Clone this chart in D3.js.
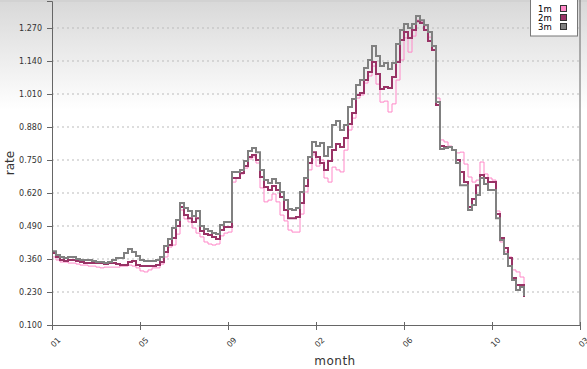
<!DOCTYPE html>
<html lang="en">
    <head>
        <meta charset="utf-8">
        <title>rate chart</title>
        <script type="text/javascript" src="https://d3js.org/d3.v7.min.js"></script>
    </head>
    <body style="margin:0">
        <style>
          text { font-family: "DejaVu Sans", Verdana, sans-serif; fill: #333; }
          .tick text { font-size: 8px; }
        </style>
        <script type="text/javascript">
            // month labels on the x axis (one every 22 samples)
            const month_labels = ["01", "05", "09", "02", "06", "10", "03"]
            const y_ticks = [0.100, 0.230, 0.360, 0.490, 0.620, 0.750, 0.880, 1.010, 1.140, 1.270]
            const series_names = ["1m", "2m", "3m"]

            const rate_1m = [0.368,0.356,0.348,0.348,0.344,0.344,0.340,0.336,0.336,0.332,0.332,0.328,0.325,0.328,0.328,0.328,0.328,0.332,0.332,0.336,
                0.332,0.325,0.313,0.309,0.317,0.325,0.325,0.340,0.368,0.407,0.415,0.458,0.553,0.518,0.506,0.482,0.462,0.447,0.427,0.419,
                0.415,0.419,0.451,0.462,0.466,0.663,0.679,0.695,0.718,0.754,0.762,0.738,0.640,0.585,0.592,0.616,0.585,0.533,0.510,0.474,
                0.466,0.466,0.537,0.624,0.711,0.770,0.726,0.750,0.679,0.663,0.722,0.711,0.703,0.789,0.868,0.915,0.994,1.006,1.053,1.081,
                1.120,1.049,0.978,0.982,0.939,0.971,1.065,1.144,1.231,1.175,1.238,1.301,1.297,1.278,1.234,1.183,0.994,0.829,0.821,0.805,
                0.789,0.778,0.781,0.734,0.683,0.663,0.671,0.742,0.695,0.679,0.671,0.549,0.427,0.388,0.368,0.317,0.309,0.289,0.230]
            const rate_2m = [0.384,0.368,0.356,0.352,0.356,0.356,0.352,0.348,0.344,0.344,0.344,0.344,0.344,0.340,0.344,0.344,0.340,0.336,0.336,0.348,
                0.352,0.336,0.332,0.332,0.332,0.332,0.336,0.348,0.388,0.415,0.443,0.490,0.565,0.533,0.521,0.506,0.521,0.470,0.458,0.455,
                0.447,0.439,0.474,0.486,0.486,0.679,0.679,0.699,0.726,0.762,0.770,0.750,0.683,0.644,0.632,0.648,0.632,0.604,0.553,0.521,
                0.521,0.525,0.581,0.648,0.738,0.781,0.762,0.738,0.711,0.746,0.789,0.813,0.801,0.837,0.892,0.935,1.006,1.014,1.065,1.097,
                1.136,1.089,1.030,1.038,1.034,1.077,1.136,1.223,1.254,1.231,1.262,1.297,1.290,1.262,1.219,1.183,0.967,0.805,0.801,0.801,
                0.789,0.750,0.703,0.663,0.565,0.596,0.651,0.691,0.679,0.663,0.663,0.537,0.443,0.403,0.364,0.285,0.258,0.258,0.210]
            const rate_3m = [0.391,0.376,0.368,0.364,0.368,0.368,0.360,0.356,0.356,0.356,0.352,0.348,0.348,0.344,0.348,0.356,0.364,0.364,0.384,0.399,
                0.388,0.372,0.356,0.352,0.352,0.352,0.356,0.368,0.411,0.439,0.482,0.514,0.581,0.561,0.549,0.529,0.549,0.490,0.478,0.470,
                0.462,0.458,0.494,0.506,0.506,0.703,0.703,0.711,0.746,0.785,0.797,0.781,0.711,0.671,0.659,0.675,0.659,0.624,0.592,0.557,
                0.553,0.561,0.624,0.679,0.762,0.821,0.805,0.817,0.766,0.801,0.888,0.904,0.868,0.888,0.959,0.990,1.045,1.065,1.112,1.144,
                1.199,1.160,1.120,1.132,1.108,1.132,1.207,1.262,1.286,1.270,1.286,1.317,1.301,1.282,1.254,1.199,0.978,0.793,0.797,0.801,
                0.789,0.738,0.651,0.651,0.553,0.573,0.612,0.679,0.655,0.632,0.632,0.521,0.435,0.380,0.332,0.277,0.238,0.250,0.214]

            const colors = ["#ff88c8", "#993366", "#808080"]
            const widths = [1, 2, 2]
            const all_series = [rate_1m, rate_2m, rate_3m]

            const w = 587
            const h = 369
            const plot_left = 52, plot_right = 580, plot_top = 1, plot_bottom = 325
            const step = 22

            const svg = d3.select("body")
                          .append("svg")
                          .attr("width", w)
                          .attr("height", h)

            // grey fade at the top of the picture
            const grad = svg.append("defs").append("linearGradient")
                            .attr("id", "bg").attr("x1", 0).attr("x2", 0).attr("y1", 0).attr("y2", 1)
            grad.append("stop").attr("offset", "0%").attr("stop-color", "#d8d8d8")
            grad.append("stop").attr("offset", "100%").attr("stop-color", "#ffffff")
            svg.append("rect").attr("width", w).attr("height", h).attr("fill", "#fff")
            svg.append("rect").attr("width", w).attr("height", 110).attr("fill", "url(#bg)")
            svg.append("rect").attr("width", w).attr("height", 2).attr("fill", "#d2d2d2")

            const x = d3.scaleLinear().domain([0, step * (month_labels.length - 1)]).range([plot_left, plot_right])
            const y = d3.scaleLinear().domain([0.1, 0.1 + (plot_bottom - plot_top) * 0.13 / 33]).range([plot_bottom, plot_top])

            // dashed grid lines
            svg.append("g")
               .selectAll("line")
               .data(y_ticks.slice(1))
               .enter()
               .append("line")
               .attr("x1", plot_left).attr("x2", plot_right)
               .attr("y1", d => y(d)).attr("y2", d => y(d))
               .attr("stroke", "#bbb")
               .attr("stroke-dasharray", "2,3")

            const line = d3.line()
                           .x((d, i) => x(i))
                           .y(d => y(d))
                           .curve(d3.curveStepAfter)

            svg.selectAll("path.series")
               .data(all_series)
               .enter()
               .append("path")
               .attr("class", "series")
               .attr("d", line)
               .attr("fill", "none")
               .attr("stroke", (d, i) => colors[i])
               .attr("stroke-width", (d, i) => widths[i])

            // axes
            const y_axis = svg.append("g")
               .attr("transform", `translate(${plot_left},0)`)
               .call(d3.axisLeft(y).tickValues(y_ticks).tickFormat(d3.format(".3f")).tickSize(5).tickPadding(5))
            y_axis.selectAll("path, line").attr("stroke", "#666")

            const x_axis = svg.append("g")
               .attr("transform", `translate(0,${plot_bottom})`)
               .call(d3.axisBottom(x).tickValues(d3.range(0, month_labels.length).map(i => i * step))
                        .tickFormat((d, i) => month_labels[i]).tickSizeInner(5).tickSizeOuter(0))
            x_axis.selectAll("path, line").attr("stroke", "#666")
            x_axis.selectAll(".tick line").attr("y1", -3)
            x_axis.selectAll(".tick text")
                  .attr("text-anchor", "end")
                  .attr("dy", 0)
                  .attr("transform", "translate(3,10) rotate(-45)")

            svg.append("line")
               .attr("x1", plot_right).attr("x2", plot_right).attr("y1", 0).attr("y2", plot_bottom)
               .attr("stroke", "#666")

            svg.append("text")
               .attr("transform", "translate(14,163) rotate(-90)")
               .attr("text-anchor", "middle")
               .style("font-size", "12px")
               .text("rate")

            svg.append("text")
               .attr("x", 335).attr("y", 365)
               .attr("text-anchor", "middle")
               .style("font-size", "12px")
               .style("letter-spacing", "0.5px")
               .text("month")

            // legend
            const legend = svg.append("g").attr("transform", "translate(530,0)")
            legend.append("rect")
                  .attr("x", 0.5).attr("y", -1).attr("width", 47).attr("height", 37)
                  .attr("fill", "#fff").attr("stroke", "#777")
            const items = legend.selectAll("g.item")
                  .data(series_names)
                  .enter()
                  .append("g")
                  .attr("transform", (d, i) => `translate(0,${5 + i * 9})`)
            items.append("text")
                 .attr("x", 8).attr("y", 6.5)
                 .style("font-size", "8.5px")
                 .style("fill", "#000")
                 .text(d => d)
            items.append("rect")
                 .attr("x", 30.5).attr("y", 0.5).attr("width", 6).attr("height", 6)
                 .attr("fill", (d, i) => colors[i])
                 .attr("stroke", "#333")
        </script>
    </body>
</html>
